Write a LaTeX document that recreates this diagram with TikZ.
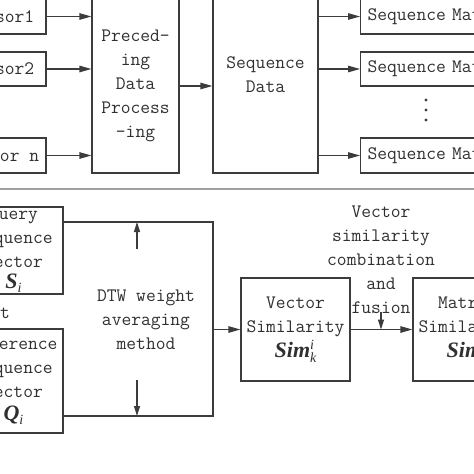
\documentclass[tikz,border=0pt]{standalone}
\usepackage{fontspec}
\usetikzlibrary{arrows.meta}
\newfontfamily\tnr{Liberation Serif}
\newcommand\monof{\ttfamily\fontsize{19}{24}\selectfont}
\newcommand\bigsym[1]{{\tnr\bfseries\itshape\fontsize{22}{24}\selectfont #1}}
\newcommand\smsym[1]{{\tnr\itshape\fontsize{14}{14}\selectfont #1}}
\definecolor{ln}{HTML}{3C3C3C}
\definecolor{tx}{HTML}{303030}
\definecolor{sepc}{HTML}{A0A0A0}
\begin{document}
\begin{tikzpicture}[x=1pt,y=-1pt,
  box/.style={draw=ln, line width=1.2pt, rectangle, inner sep=0pt, text=tx, font=\monof, align=center},
  lbl/.style={inner sep=0pt, text=tx, font=\monof, align=center},
  arr/.style={draw=ln, line width=1.2pt, -{Triangle[length=12pt,width=6.5pt]}},
  sarr/.style={draw=ln, line width=1.2pt, -{Triangle[length=10pt,width=6pt]}},
  plain/.style={draw=ln, line width=1.2pt}]
\useasboundingbox (0,0) rectangle (474,474);
\clip (0,0) rectangle (474,474);
\fill[white] (0,0) rectangle (474,474);

% ---- top section ----
\node[box, minimum width=92pt, minimum height=35pt] (s1) at (0,16.5) {Sensor1};
\node[box, minimum width=92pt, minimum height=34pt] (s2) at (0,69) {Sensor2};
\node[box, minimum width=92pt, minimum height=35pt] (sn) at (0,155.5) {Sensor n};

\node[box, minimum width=87pt, minimum height=174pt] (pre) at (135.5,86) {Preced-\\ing\\Data\\Process\\-ing};
\node[box, minimum width=105pt, minimum height=197pt] (sd) at (265.5,74.5) {Sequence\\Data};

\node[box, anchor=west, minimum height=35pt, text width=196pt, inner xsep=7pt, align=left] (m1) at (360,16.5) {Sequence Matrix 1};
\node[box, anchor=west, minimum height=34pt, text width=196pt, inner xsep=7pt, align=left] (m2) at (360,69) {Sequence Matrix 2};
\node[box, anchor=west, minimum height=35pt, text width=196pt, inner xsep=7pt, align=left] (m3) at (360,155.5) {Sequence Matrix n};

\draw[arr] (s1.east) -- (pre.west |- s1.east);
\draw[arr] (s2.east) -- (pre.west |- s2.east);
\draw[arr] (sn.east) -- (pre.west |- sn.east);
\draw[arr] (pre.east) -- (sd.west |- pre.east);
\draw[arr] (sd.east |- m1.west) -- (m1.west);
\draw[arr] (sd.east |- m2.west) -- (m2.west);
\draw[arr] (sd.east |- m3.west) -- (m3.west);

\fill[ln] (426,100) circle (1.6pt) (426,110) circle (1.6pt) (426,120) circle (1.6pt);

% separator
\draw[sepc, line width=1.6pt] (-5,189) -- (480,189);

% ---- bottom section ----
\node[box, minimum width=99pt, minimum height=87pt] (q) at (13.5,250.5)
  {Query\\Sequence\\Vector\\[-3pt]\bigsym{S}\raisebox{-4pt}{\smsym{i}}};
\node[box, minimum width=99pt, minimum height=104pt] (r) at (13.5,381)
  {Reference\\Sequence\\Vector\\[-1pt]\bigsym{Q}\raisebox{-4pt}{\smsym{i}}};
\node[lbl, anchor=base east] (tl) at (10,318) {t};

\coordinate (dtr) at (213,222);
\coordinate (dbr) at (213,416);
\draw[plain] (q.east |- dtr) -- (dtr) -- (dbr) -- (r.east |- dbr);
\node[lbl] (dtw) at (146,320) {DTW weight\\averaging\\method};
\coordinate (ua) at (137,249);
\coordinate (ut) at (137,222);
\coordinate (da) at (137,380);
\coordinate (dt) at (137,416);
\draw[sarr] (ua) -- (ut);
\draw[sarr] (da) -- (dt);
\coordinate (dmid) at (213,329.5);

\node[box, minimum width=109pt, minimum height=103pt] (vs) at (295.5,329.5)
  {Vector\\Similarity\\[1pt]\bigsym{Sim}\rlap{\raisebox{8pt}{\smsym{i}}}\raisebox{-5pt}{\smsym{k}}};
\node[box, minimum width=109pt, minimum height=103pt] (mx) at (467.5,329.5)
  {Matrix\\Similarity\\[1pt]\bigsym{Sim}\raisebox{-5pt}{\smsym{k}}};

\draw[arr] (dmid) -- (vs.west);
\draw[arr] (vs.east) -- (mx.west);

\node[lbl] (fus) at (381,260) {Vector\\similarity\\combination\\and\\fusion};
\coordinate (fa) at (381,312);
\coordinate (ft) at (381,329.5);
\draw[sarr] (fa) -- (ft);
\end{tikzpicture}
\end{document}
